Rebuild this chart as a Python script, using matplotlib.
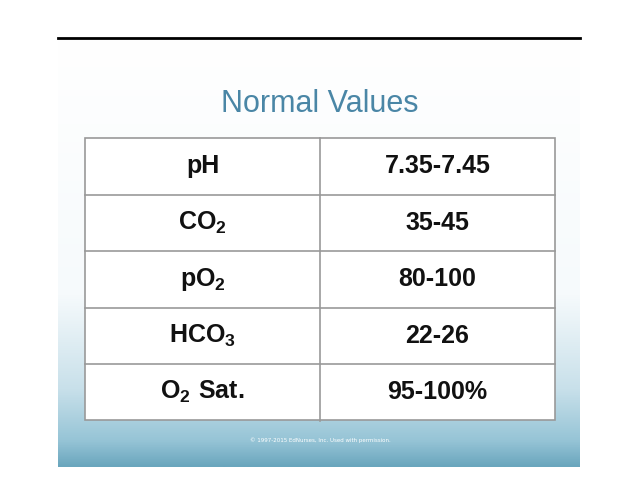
import numpy as np
import matplotlib
matplotlib.use("Agg")
import matplotlib.pyplot as plt
from matplotlib.colors import LinearSegmentedColormap

plt.rcParams['mathtext.fontset'] = 'custom'
plt.rcParams['mathtext.rm'] = 'Liberation Sans'
plt.rcParams['mathtext.bf'] = 'Liberation Sans:bold'

title = "Normal Values"
parameters = [r'pH', r'$\mathbf{CO}_\mathbf{2}$', r'$\mathbf{pO}_\mathbf{2}$',
              r'$\mathbf{HCO}_\mathbf{3}$', r'$\mathbf{O}_\mathbf{2}\ \mathbf{Sat.}$']
values = ['7.35-7.45', '35-45', '80-100', '22-26', '95-100%']
footer = "© 1997-2015 EdNurses, Inc. Used with permission."

fig = plt.figure(figsize=(6.38, 4.78), dpi=100)
ax = fig.add_axes([0, 0, 1, 1])
ax.set_xlim(0, 638); ax.set_ylim(478, 0); ax.axis('off')

cmap = LinearSegmentedColormap.from_list('g', [(0, '#ffffff'), (0.6, '#f6fafc'),
                                               (0.82, '#c8e0ea'), (0.94, '#96c4d6'), (1, '#6aa6bd')])
grad = np.linspace(0, 1, 256).reshape(-1, 1)
ax.imshow(grad, cmap=cmap, extent=(58, 580, 467, 38), aspect='auto', zorder=0)
ax.plot([58, 580], [38, 38], color='black', lw=2, zorder=3)

ax.text(320, 104, title, fontsize=22, color='#4a86a6', ha='center', va='center',
        family='Liberation Sans', zorder=3)

x0, x1, xm = 85, 555, 320
y0, h = 138, 56.5
ax.add_patch(plt.Rectangle((x0, y0), x1 - x0, h * len(values), facecolor='white',
                           edgecolor='#999999', lw=1.2, zorder=1))
for i in range(1, len(values)):
    ax.plot([x0, x1], [y0 + i * h] * 2, color='#999999', lw=1.2, zorder=2)
ax.plot([xm, xm], [y0, y0 + h * len(values)], color='#999999', lw=1.2, zorder=2)
for i, (p, v) in enumerate(zip(parameters, values)):
    yc = y0 + (i + 0.5) * h
    ax.text((x0 + xm) / 2, yc, p, fontsize=18, fontweight='bold', family='Liberation Sans',
            ha='center', va='center', color='#111111', zorder=3)
    ax.text((xm + x1) / 2, yc, v, fontsize=18, fontweight='bold', family='Liberation Sans',
            ha='center', va='center', color='#111111', zorder=3)

ax.text(320, 440, footer, fontsize=4, color='white', ha='center', va='center', zorder=3)
fig.savefig('out.png', dpi=100)
